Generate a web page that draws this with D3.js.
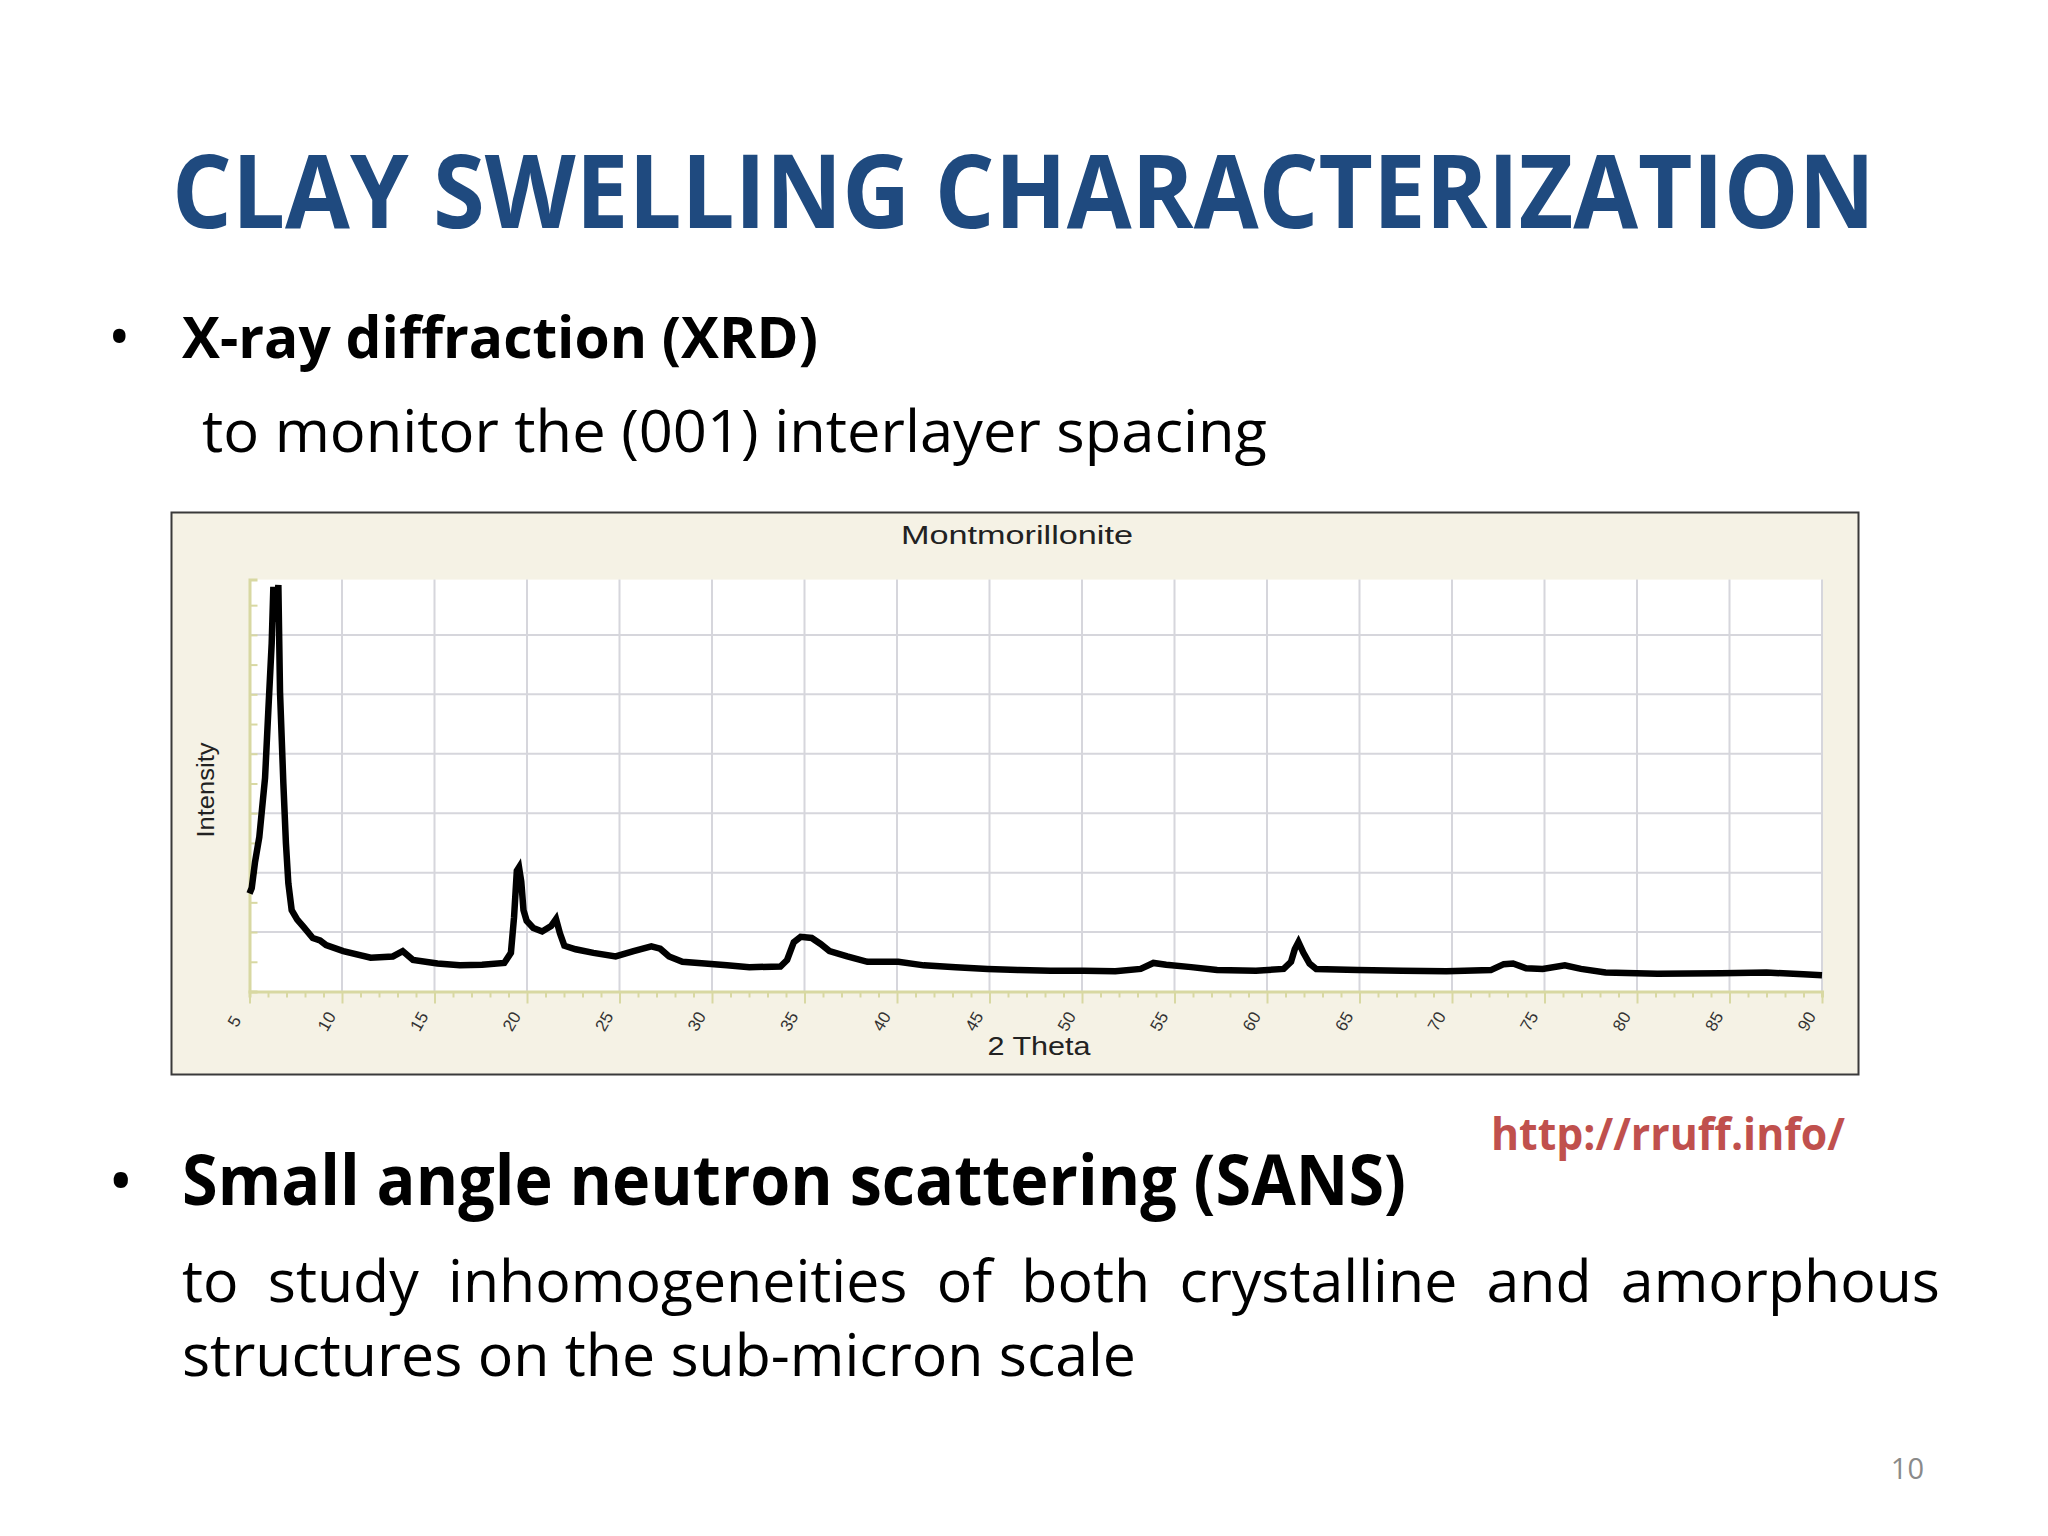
<!DOCTYPE html>
<html>
<head>
<meta charset="utf-8">
<script src="https://cdn.jsdelivr.net/npm/d3@7"></script>
<style>
  html, body { margin: 0; padding: 0; background: #fff; }
  svg { display: block; }
</style>
</head>
<body>
<div id="slide"></div>
<script>
const width = 2048
const height = 1536

// XRD pattern of montmorillonite (2θ in degrees, intensity in arbitrary counts)
const twoTheta = [
  5.0, 5.12, 5.30, 5.53, 5.84, 6.02, 6.20, 6.29, 6.43, 6.56, 6.65, 6.83, 6.97, 7.10, 7.28, 7.58, 7.91, 8.42, 8.81, 9.14,
  10.07, 11.55, 12.75, 13.28, 13.84, 15.16, 16.37, 17.57, 18.77, 19.13, 19.30, 19.45, 19.57, 19.69, 19.81, 19.98,
  20.34, 20.82, 21.30, 21.57, 21.78, 22.02, 22.63, 23.59, 24.79, 25.76, 26.72, 27.20, 27.68, 28.40, 29.61, 30.81,
  32.02, 33.70, 34.06, 34.42, 34.79, 35.39, 35.87, 36.35, 37.31, 38.40, 40.07, 41.45, 43.17, 44.9, 46.6, 48.3,
  50.07, 51.8, 53.17, 53.86, 54.55, 55.9, 57.3, 59.4, 60.9, 61.3, 61.5, 61.7, 61.97, 62.3, 62.66, 64.9, 67.3,
  69.7, 72.1, 72.8, 73.3, 74.0, 74.9, 76.1, 76.97, 78.3, 81.1, 84.55, 87.0, 89.0, 90.0
]
const intensity = [
  1650, 1740, 2180, 2600, 3590, 4740, 5860, 6810, 6220, 6840, 5040, 3500, 2490, 1820, 1370, 1210, 1090, 900, 860, 780,
  680, 570, 590, 680, 530, 470, 440, 450, 480, 650, 1250, 2030, 2090, 1850, 1370, 1190,
  1070, 1010, 1100, 1220, 980, 770, 710, 650, 590, 680, 760, 720, 590, 500, 470, 440,
  410, 420, 530, 830, 920, 900, 800, 680, 590, 500, 500, 440, 410, 380, 360, 350,
  350, 340, 380, 480, 450, 410, 360, 350, 380, 500, 710, 830, 650, 470, 380, 360, 350,
  340, 360, 460, 470, 390, 380, 440, 380, 320, 300, 305, 320, 290, 275
]
const xTicks = d3.range(5, 91, 5)
const yGrid = [1000, 2000, 3000, 4000, 5000, 6000]

const svg = d3.select('#slide').append('svg')
  .attr('width', width)
  .attr('height', height)

svg.append('rect').attr('width', width).attr('height', height).attr('fill', '#fff')

// squeeze a text element into the width it has in the picture
const fit = (sel, w) => sel.attr('textLength', w).attr('lengthAdjust', 'spacingAndGlyphs')

const sans = '"Open Sans", "Noto Sans", sans-serif'

fit(svg.append('text')
  .attr('x', 172).attr('y', 228)
  .attr('font-family', sans).attr('font-weight', 700).attr('font-size', 102)
  .attr('fill', '#1f4a7f')
  .text('CLAY SWELLING CHARACTERIZATION'), 1703)

// bullet 1
svg.append('text').attr('x', 108).attr('y', 358)
  .attr('font-family', sans).attr('font-size', 60).text('•')
fit(svg.append('text').attr('x', 182).attr('y', 358)
  .attr('font-family', sans).attr('font-size', 58).attr('font-weight', 700)
  .text('X-ray diffraction (XRD)'), 636)

fit(svg.append('text').attr('x', 202).attr('y', 452)
  .attr('font-family', sans).attr('font-size', 58)
  .text('to monitor the (001) interlayer spacing'), 1065)

// bullet 2
svg.append('text').attr('x', 108).attr('y', 1205)
  .attr('font-family', sans).attr('font-size', 68).text('•')
fit(svg.append('text').attr('x', 182).attr('y', 1205)
  .attr('font-family', sans).attr('font-size', 69).attr('font-weight', 700)
  .text('Small angle neutron scattering (SANS)'), 1224)

fit(svg.append('text').attr('x', 1491).attr('y', 1150)
  .attr('font-family', sans).attr('font-size', 44).attr('font-weight', 700)
  .attr('fill', '#c0504d')
  .text('http://rruff.info/'), 354)

// justified paragraph: glyph squeeze taken from the last line, the rest goes between words
const last = svg.append('text').attr('x', 182).attr('y', 1376)
  .attr('font-family', sans).attr('font-size', 58)
  .text('structures on the sub-micron scale')
const fx = 954 / last.node().getComputedTextLength()
fit(last, 954)
const just = svg.append('text')
  .attr('transform', `translate(182,1302) scale(${fx},1)`)
  .attr('font-family', sans).attr('font-size', 58)
  .text('to study inhomogeneities of both crystalline and amorphous')
const nat = just.node().getComputedTextLength()
just.attr('word-spacing', (1758 / fx - nat) / 7)

svg.append('text').attr('x', 1924).attr('y', 1479).attr('text-anchor', 'end')
  .attr('font-family', sans).attr('font-size', 29).attr('fill', '#8a8a8a')
  .text('10')

// ---- chart panel ----
const panel = {x: 171.5, y: 512.5, w: 1687, h: 562}
const plot = {left: 249.5, right: 1822, top: 579.6, bottom: 991.5}

svg.append('rect')
  .attr('x', panel.x).attr('y', panel.y).attr('width', panel.w).attr('height', panel.h)
  .attr('fill', '#f5f2e5').attr('stroke', '#3a3a3a').attr('stroke-width', 2)

svg.append('rect')
  .attr('x', plot.left).attr('y', plot.top)
  .attr('width', plot.right - plot.left).attr('height', plot.bottom - plot.top)
  .attr('fill', '#fff')

const xScale = d3.scaleLinear().domain([5, 90]).range([plot.left, plot.right])
const yScale = d3.scaleLinear().domain([0, 6930]).range([plot.bottom, plot.top])

const g = svg.append('g')

// grid
g.selectAll('.vgrid').data(xTicks.slice(1))
  .join('line')
  .attr('x1', d => xScale(d)).attr('x2', d => xScale(d))
  .attr('y1', plot.top).attr('y2', plot.bottom)
  .attr('stroke', '#d6d6dc').attr('stroke-width', 2)
g.selectAll('.hgrid').data(yGrid)
  .join('line')
  .attr('x1', plot.left).attr('x2', plot.right)
  .attr('y1', d => yScale(d)).attr('y2', d => yScale(d))
  .attr('stroke', '#d6d6dc').attr('stroke-width', 2)

const axisColor = '#d8d8a2'

// x axis: ticks every degree, longer every 5
const xAxis = g.append('g').attr('transform', `translate(0,${plot.bottom})`)
xAxis.call(d3.axisBottom(xScale).tickValues(d3.range(5, 91, 1)).tickSize(6).tickFormat(''))
xAxis.call(a => a.selectAll('.tick line').attr('stroke', axisColor).attr('stroke-width', 2)
  .filter(d => d % 5 === 0).attr('y2', 12))
xAxis.select('.domain').attr('stroke', axisColor).attr('stroke-width', 3)

xAxis.selectAll('.lbl').data(xTicks)
  .join('text')
  .attr('transform', d => `translate(${xScale(d) - 15},30) rotate(-60)`)
  .attr('text-anchor', 'middle').attr('dominant-baseline', 'central')
  .attr('font-family', '"Liberation Sans", Arial, sans-serif').attr('font-size', 17)
  .attr('fill', '#333')
  .text(d => d)

// y axis: no labels, short inward ticks every 500
const yAxis = g.append('g').attr('transform', `translate(${plot.left},0)`)
yAxis.call(d3.axisRight(yScale).tickValues(d3.range(500, 6930, 500)).tickSize(8).tickFormat(''))
yAxis.selectAll('.tick line').attr('stroke', axisColor).attr('stroke-width', 2)
yAxis.select('.domain').attr('stroke', axisColor).attr('stroke-width', 3)

// pattern
const pts = twoTheta.map((t, i) => [t, intensity[i]])
const line = d3.line().x(d => xScale(d[0])).y(d => yScale(d[1]))
g.append('path')
  .attr('d', line(pts))
  .attr('fill', 'none').attr('stroke', '#000').attr('stroke-width', 6.5)
  .attr('stroke-linejoin', 'miter')

// titles
const labelFont = '"Liberation Sans", Arial, sans-serif'
fit(svg.append('text').attr('x', 1017).attr('y', 544).attr('text-anchor', 'middle')
  .attr('font-family', labelFont).attr('font-size', 26).attr('fill', '#222')
  .text('Montmorillonite'), 232)
fit(svg.append('text').attr('x', 1039).attr('y', 1055).attr('text-anchor', 'middle')
  .attr('font-family', labelFont).attr('font-size', 26).attr('fill', '#222')
  .text('2 Theta'), 103)
fit(svg.append('text').attr('transform', 'translate(214,790) rotate(-90)').attr('text-anchor', 'middle')
  .attr('font-family', labelFont).attr('font-size', 23).attr('fill', '#222')
  .text('Intensity'), 95)
</script>
</body>
</html>
